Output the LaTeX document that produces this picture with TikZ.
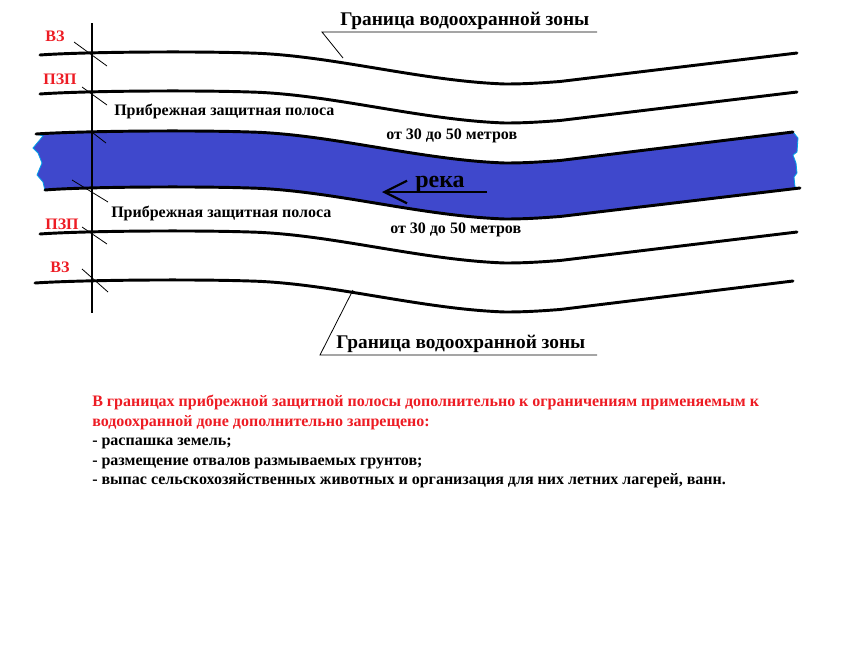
\documentclass[tikz,border=0pt]{standalone}
\usepackage{fontspec}
\setmainfont{Liberation Serif}
\usetikzlibrary{arrows.meta,positioning}

\definecolor{riverblue}{RGB}{63,72,204}
\definecolor{riveredge}{RGB}{0,162,232}
\definecolor{zonered}{RGB}{237,28,36}

% one bank line: left x, base y, right x (and the same line run backwards)
\newcommand{\bankline}[3]{(#1,#2+2) .. controls (80,#2-1) and (190,#2-2) .. (250,#2) .. controls (330,#2+2) and (420,#2+28) .. (505,#2+31) .. controls (525,#2+31) and (540,#2+30) .. (560,#2+28.5) -- (#3,#2)}
\newcommand{\banklineback}[3]{(#3,#2) -- (560,#2+28.5) .. controls (540,#2+30) and (525,#2+31) .. (505,#2+31) .. controls (420,#2+28) and (330,#2+2) .. (250,#2) .. controls (190,#2-2) and (80,#2-1) .. (#1,#2+2)}

\begin{document}
\begin{tikzpicture}[
    x=0.75pt, y=-0.75pt,
    bank/.style={line width=2.2pt, line cap=round},
    tick/.style={line width=0.6pt},
    leader/.style={line width=0.6pt},
    zone/.style={font=\bfseries\fontsize{12}{14}\selectfont, text=zonered, inner sep=0pt},
    lbl/.style={font=\bfseries\fontsize{12}{14}\selectfont, inner sep=0pt, anchor=west},
    dist/.style={font=\bfseries\fontsize{12}{14}\selectfont, inner sep=0pt, anchor=west},
    title/.style={font=\bfseries\fontsize{14.5}{16}\selectfont, inner sep=0pt, anchor=west}
]
\useasboundingbox (0,0) rectangle (867,650);

% River
\fill[riverblue] \bankline{36}{132}{793} -- (798,138) -- (797,152) -- (793,155) -- (796,163) -- (797,173) -- (794,177) -- (795,187)
  -- \banklineback{45}{188}{800} -- (43,182) -- (37,175) -- (42,163) -- (38,153) -- (33,148) -- (43,136) -- cycle;
\draw[riveredge, line width=0.6pt] (793,132) -- (798,138) -- (797,152) -- (793,155) -- (796,163) -- (797,173) -- (794,177) -- (795,187) -- (800,188);
\draw[riveredge, line width=0.6pt] (45,191) -- (43,182) -- (37,175) -- (42,163) -- (38,153) -- (33,148) -- (43,136) -- (36,134);

% Bank lines
\draw[bank] \bankline{40}{53}{797};
\draw[bank] \bankline{40}{92}{797};
\draw[bank] \bankline{36}{132}{793};
\draw[bank] \bankline{45}{188}{800};
\draw[bank] \bankline{40}{232}{797};
\draw[bank] \bankline{35}{281}{793};

% Section line and ticks
\coordinate (sectop) at (92,23);
\coordinate (secbot) at (92,313);
\draw[line width=0.8pt] (sectop) -- (secbot);
\draw[tick] (92,54) ++(-18,-12) -- ++(33,24);
\draw[tick] (92,93) ++(-10,-6) -- ++(25,18);
\draw[tick] (92,132) ++(1,1) -- ++(13,10);
\draw[tick] (92,188) ++(-20,-8) -- ++(36,22);
\draw[tick] (92,232) ++(-10,-5) -- ++(25,17);
\draw[tick] (92,281) ++(-10,-12) -- ++(26,23);

% Zone labels
\node[zone] (vz1) at (55,36) {ВЗ};
\node[zone] (pzp1) at (60,79) {ПЗП};
\node[zone] (pzp2) at (62,224) {ПЗП};
\node[zone] (vz2) at (60,267) {ВЗ};

% Strip labels
\node[lbl] (strip1) at (114,111) {Прибрежная защитная полоса};
\node[lbl] (strip2) at (111,213) {Прибрежная защитная полоса};
\node[dist] (dist1) at (386,136) {от 30 до 50 метров};
\node[dist] (dist2) at (390,230) {от 30 до 50 метров};

% River flow
\node[font=\bfseries\fontsize{18}{20}\selectfont, inner sep=0pt, anchor=base west] (river) at (415,187) {река};
\coordinate (flowstart) at (487,192);
\coordinate (flowend) at (382,192);
\draw[line width=2.2pt, -{Straight Barb[length=17pt, width=17pt, line width=1.6pt]}] (flowstart) -- (flowend);

% Water protection zone borders
\node[title] (zonetop) at (340,21) {Граница водоохранной зоны};
\coordinate (banktop) at (343,58);
\coordinate (ultopl) at (322,32);
\coordinate (ultopr) at (597,32);
\draw[leader] (banktop) -- (ultopl) -- (ultopr);
\node[title] (zonebot) at (336,344) {Граница водоохранной зоны};
\coordinate (bankbot) at (353,290);
\coordinate (ulbotl) at (320,355);
\coordinate (ulbotr) at (597,355);
\draw[leader] (bankbot) -- (ulbotl) -- (ulbotr);

% Restrictions
\node[font=\bfseries\fontsize{12}{14.6}\selectfont, align=left, inner sep=0pt, anchor=north west] (rules) at (92,395) {%
  \textcolor{zonered}{В границах прибрежной защитной полосы дополнительно к ограничениям применяемым к}\\
  \textcolor{zonered}{водоохранной доне дополнительно запрещено:}\\
  - распашка земель;\\
  - размещение отвалов размываемых грунтов;\\
  - выпас сельскохозяйственных животных и организация для них летних лагерей, ванн.};

\end{tikzpicture}
\end{document}
